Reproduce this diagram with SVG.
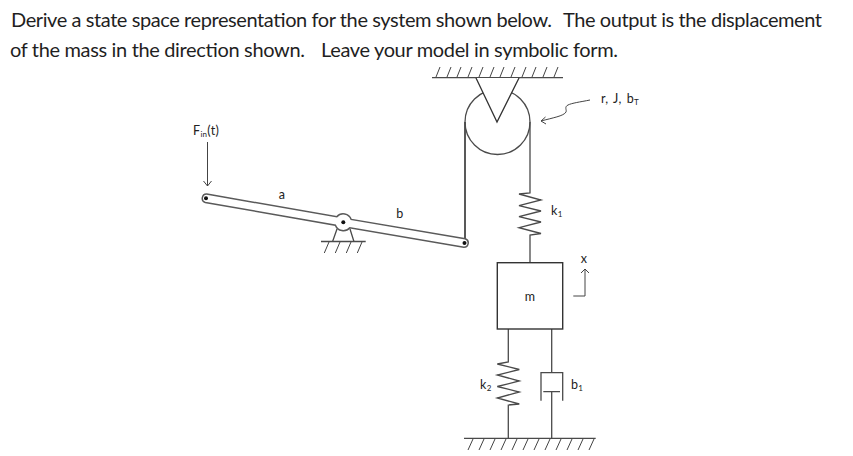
<svg xmlns="http://www.w3.org/2000/svg" width="853" height="456" viewBox="0 0 853 456">
<style>
.t{font-family:Lato,"Liberation Sans",sans-serif;font-size:20px;fill:#1f1f1f}
.l{font-family:Lato,"Liberation Sans",sans-serif;font-size:12.500px;letter-spacing:.3px;fill:#222}
.s{font-size:8px}
.k{fill:none;stroke:#222;stroke-width:1.5}
.g{fill:none;stroke:#4a4a4a;stroke-width:1.3}
.h{fill:none;stroke:#444;stroke-width:1}
</style>
<rect width="853" height="456" fill="#fff"/>
<g id="title">
<text class="t" x="11" y="27" textLength="541" lengthAdjust="spacing">Derive a state space representation for the system shown below.</text>
<text class="t" x="563" y="27" textLength="259" lengthAdjust="spacing">The output is the displacement</text>
<text class="t" x="10" y="57" textLength="295" lengthAdjust="spacing">of the mass in the direction shown.</text>
<text class="t" x="321" y="57" textLength="297" lengthAdjust="spacing">Leave your model in symbolic form.</text>
</g>
<g id="connectors">
<path class="k" d="M465 122V243"/>
<path class="g" d="M530 122V193L519 194L541 200L519 205.700L541 211L519 216.700L541 222L519 227.700L541 233.500L530 235V263"/>
<path class="g" d="M508.300 329V362L497.300 364L519.300 369.500L497.300 375L519.300 381L497.300 386.500L519.300 392L497.300 398L519.300 404L508.300 405V438"/>
<path class="g" d="M551.700 329V372.700M541 400.700V372.700H562.700V400.700M543.300 391.700H560M551.700 391.700V438"/>
<path class="h" d="M207.500 142V186M203.500 181L207.500 186L211.500 181"/>
<path class="h" d="M573.300 296H585V269M581 273L585 269L589 273"/>
<path class="h" d="M590 100C580 102 572 103 568 105C564 107 567 110 566 112C564 116 552 118 541 121M545.500 117L541 121L546 124"/>
</g>
<g id="top-support">
<path class="g" d="M432 77.700H563"/>
<path class="h" d="M436 77L440 67M447 77L451 67M457 77L461 67M468 77L472 67M479 77L483 67M490 77L494 67M500 77L504 67M511 77L515 67M522 77L526 67M532 77L536 67M543 77L547 67M554 77L558 67"/>
</g>
<g id="pulley">
<circle class="g" cx="497.500" cy="122" r="32.500"/>
<path fill="#fff" stroke="#333" stroke-width="1.300" d="M476 78L497 122L519 78"/>
</g>
<g id="pivot">
<path class="g" d="M337 229L332.500 241.700M350 229L354 241.700"/>
<path class="g" d="M321 241.500H365.700"/>
<path class="h" d="M324.300 253L329 242M335.300 253L340 242M346.300 253L351 242M357.300 253L362 242"/>
</g>
<g id="lever">
<path fill="#fff" stroke="#5a5a5a" stroke-width="1.500" d="M206.700 194.100L336.800 216.800A8.500 8.500 0 0 1 351.200 219.400L465.200 238.800A4.300 4.300 0 0 1 463.800 247.200L349.800 227.800A8.500 8.500 0 0 1 335.400 225.200L205.300 202.500A4.300 4.300 0 0 1 206.700 194.100Z"/>
<circle cx="206" cy="198.300" r="2" fill="#111"/>
<circle cx="464.500" cy="243" r="2" fill="#111"/>
<circle cx="343.300" cy="222.300" r="2" fill="#111"/>
</g>
<g id="mass">
<rect x="497.300" y="262.700" width="65.400" height="66.300" fill="#fff" stroke="#333" stroke-width="1.400"/>
<text class="l" x="530" y="301" text-anchor="middle">m</text>
</g>
<g id="ground">
<path class="g" d="M464 438.300H595.700"/>
<path class="h" d="M468 450L473 439M479 450L484 439M490 450L495 439M501 450L506 439M512 450L517 439M523 450L528 439M534 450L539 439M545 450L550 439M556 450L561 439M567 450L572 439M578 450L583 439M589 450L594 439"/>
</g>
<g id="labels">
<text class="l" x="193" y="135">F<tspan class="s" dy="2">in</tspan><tspan dy="-2">(t)</tspan></text>
<text class="l" x="282" y="199" text-anchor="middle">a</text>
<text class="l" x="400" y="218" text-anchor="middle">b</text>
<text class="l" x="551" y="215">k<tspan class="s" dy="2">1</tspan></text>
<text class="l" x="584" y="263" text-anchor="middle">x</text>
<text class="l" x="480" y="389">k<tspan class="s" dy="2">2</tspan></text>
<text class="l" x="571" y="389">b<tspan class="s" dy="2">1</tspan></text>
<text class="l" x="601" y="103" word-spacing="1.500">r, J, b<tspan class="s" dy="2">T</tspan></text>
</g>
</svg>
